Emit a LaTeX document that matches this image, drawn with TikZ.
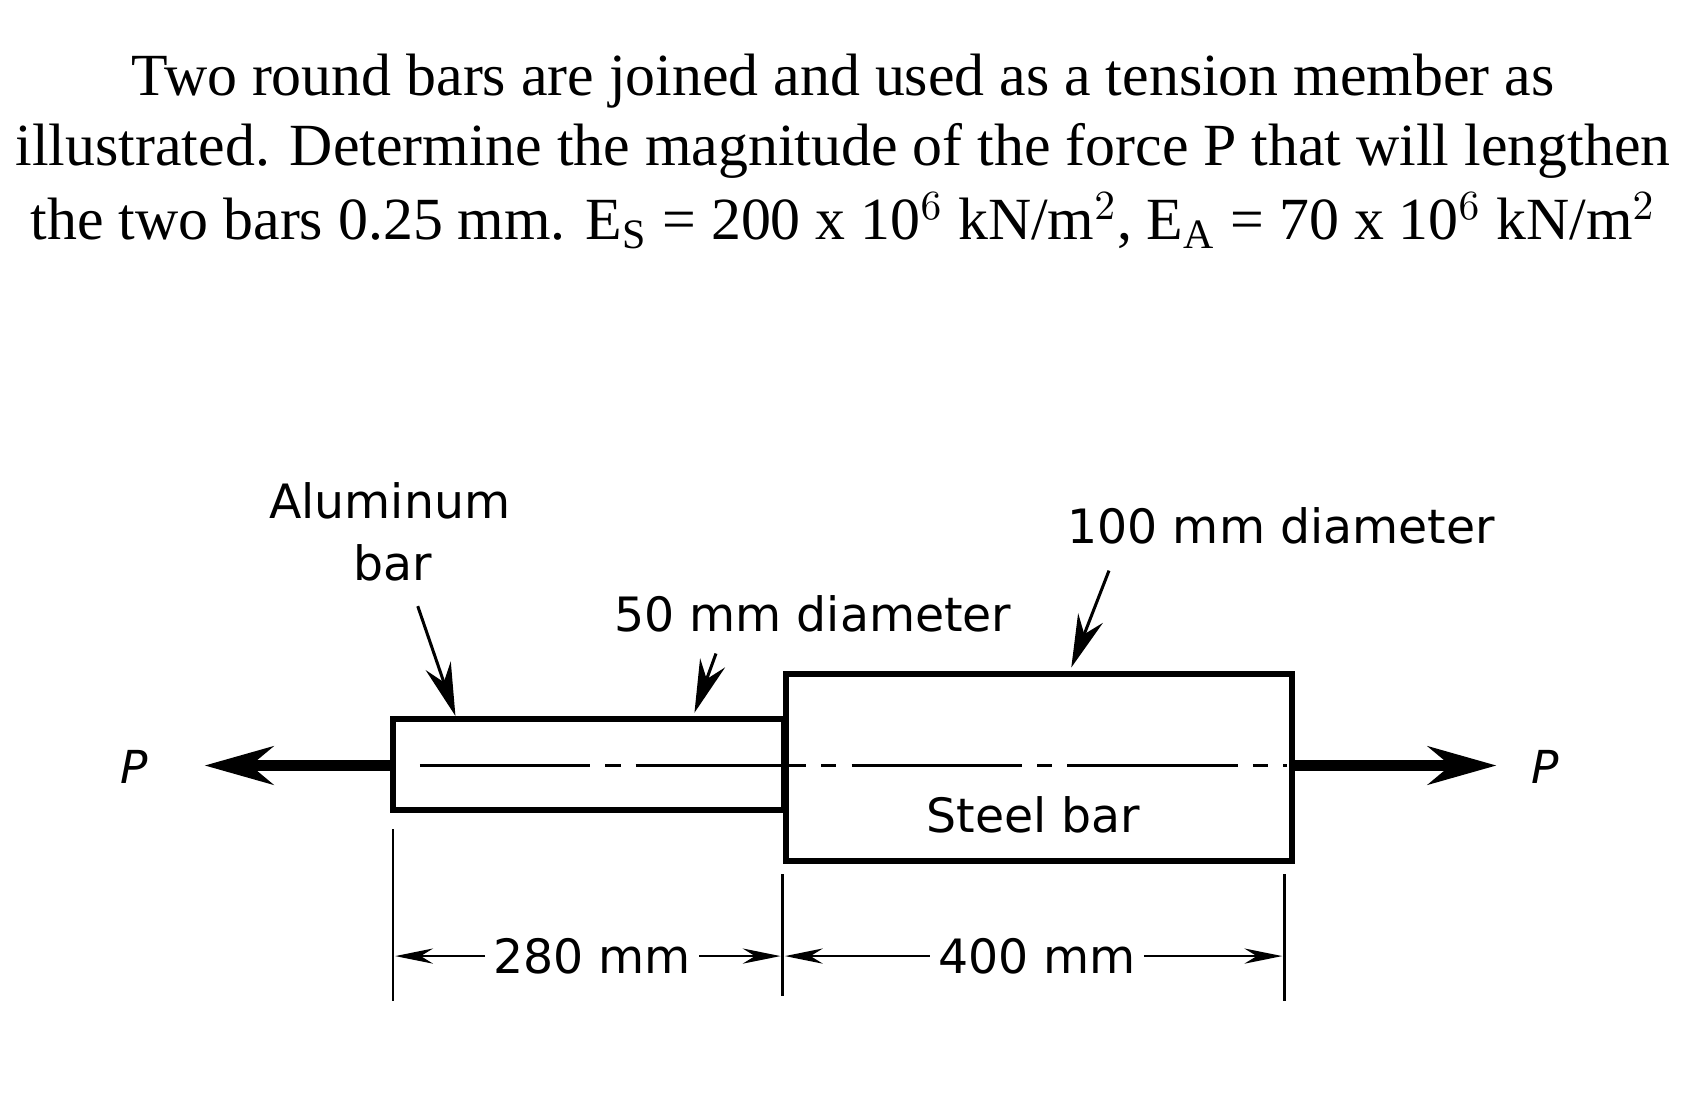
\documentclass[tikz,border=0pt]{standalone}
\usepackage{fontspec}
\usetikzlibrary{arrows.meta}
\setmainfont{Liberation Serif}
\newfontfamily\lbl{DejaVu Sans}
\begin{document}
\begin{tikzpicture}[x=0.01cm,y=-0.01cm,
  ttl/.style={font=\fontsize{15.8pt}{18pt}\selectfont},
  lb/.style={font=\lbl\fontsize{12.5pt}{14pt}\selectfont},
  bar/.style={draw,line width=1.6pt},
  ptr/.style={-{Stealth[length=14pt,width=7pt]},line width=0.8pt},
  dim/.style={-{Stealth[length=10pt,width=4pt]},line width=0.7pt},
  force/.style={-{Stealth[length=18pt,width=10pt]},line width=3pt}]
\useasboundingbox (0,0) rectangle (1565,1028);
\node[ttl] (t1) at (783,75) {Two round bars are joined and used as a tension member as};
\node[ttl] (t2) at (783,140) {illustrated. Determine the magnitude of the force P that will lengthen};
\node[ttl] (t3) at (783,205) {the two bars 0.25 mm. E$_{\mathrm S}$ = 200 x 10$^6$ kN/m$^2$, E$_{\mathrm A}$ = 70 x 10$^6$ kN/m$^2$};
\draw[bar] (365,668) rectangle (728,752);
\draw[bar] (730,626) rectangle (1200,800);
\coordinate (al) at (365,711); \coordinate (st) at (1200,711);
\draw[line width=0.8pt,dash pattern=on 45pt off 4pt on 4pt off 4pt] (390,711) -- (1195,711);
\coordinate (pl) at (190,711); \coordinate (pr) at (1390,711);
\draw[force] (al) -- (pl);
\draw[force] (st) -- (pr);
\node[font=\lbl\itshape\fontsize{12pt}{13pt}\selectfont] (P1) at (125,712) {P};
\node[font=\lbl\itshape\fontsize{12pt}{13pt}\selectfont] (P2) at (1435,712) {P};
\node[lb] (alu) at (362,465) {Aluminum};
\node[lb] (alb) at (365,523) {bar};
\node[lb] (d50) at (755,570) {50 mm diameter};
\node[lb] (d100) at (1190,488) {100 mm diameter};
\node[lb] (stl) at (960,757) {Steel bar};
\coordinate (a1) at (388,563); \coordinate (a2) at (423,665);
\coordinate (b1) at (665,607); \coordinate (b2) at (645,662);
\coordinate (c1) at (1030,530); \coordinate (c2) at (995,620);
\draw[ptr] (a1) -- (a2); \draw[ptr] (b1) -- (b2); \draw[ptr] (c1) -- (c2);
\draw[line width=0.7pt] (365,770) -- (365,930) (727,812) -- (727,925) (1193,812) -- (1193,930);
\node[lb,inner sep=2pt] (d280) at (550,888) {280 mm};
\node[lb,inner sep=2pt] (d400) at (963,888) {400 mm};
\draw[dim] (d280.west) -- (367,888);
\draw[dim] (d280.east) -- (725,888);
\draw[dim] (d400.west) -- (729,888);
\draw[dim] (d400.east) -- (1191,888);
\end{tikzpicture}
\end{document}
